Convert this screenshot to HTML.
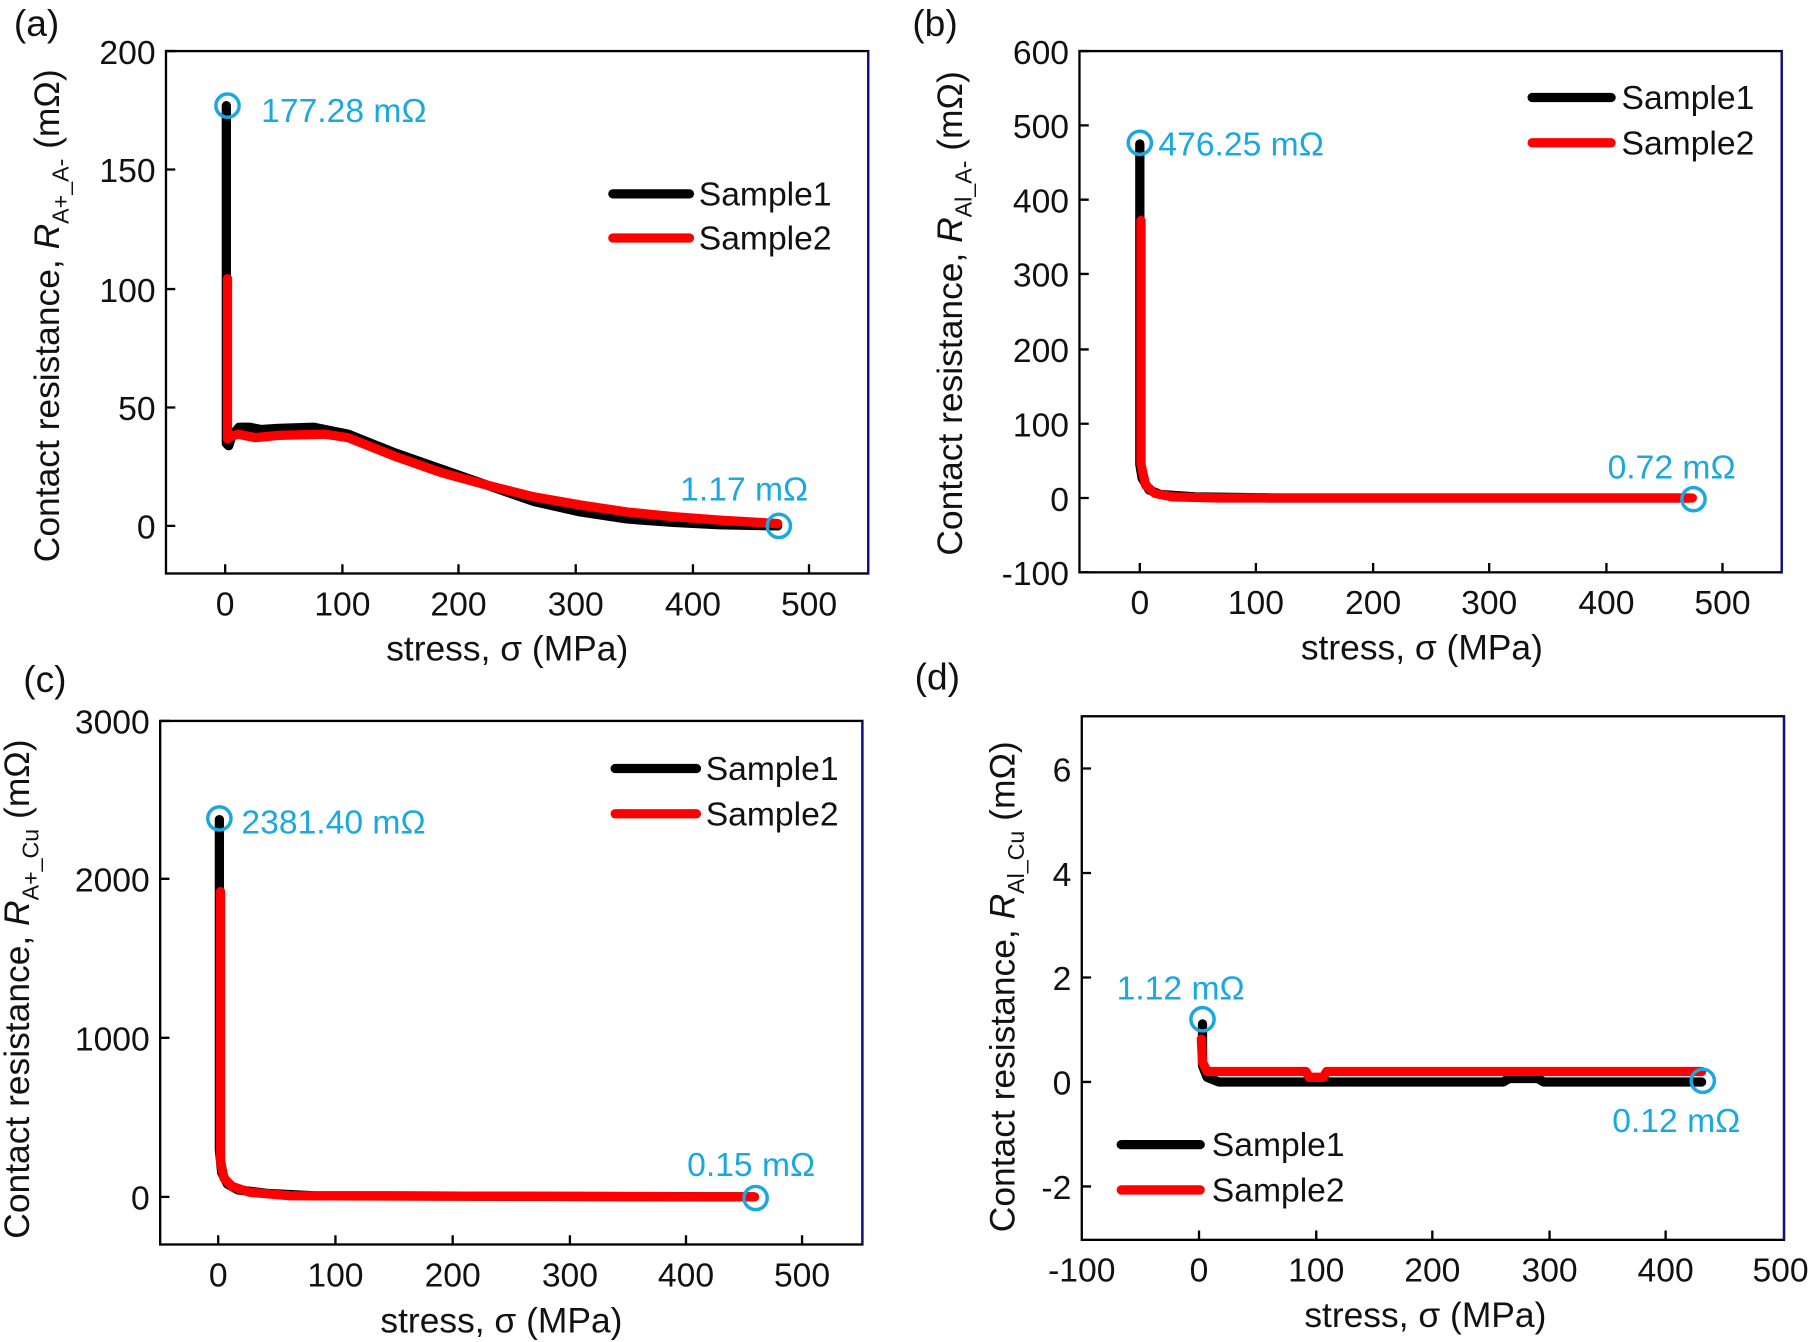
<!DOCTYPE html>
<html><head><meta charset="utf-8"><style>body{margin:0;background:#fff}svg{display:block}</style></head><body>
<svg width="1820" height="1342" viewBox="0 0 1568 1156" preserveAspectRatio="none" xmlns="http://www.w3.org/2000/svg" font-family="Liberation Sans, Arial, sans-serif">
<style>
.t{font-size:29px;fill:#111}
.a{font-size:30.5px;fill:#111}
.p{font-size:32px;fill:#111}
.c{font-size:29px;fill:#1aa8e0}
.b{fill:none;stroke:#000;stroke-width:8;stroke-linejoin:round;stroke-linecap:round}
.r{fill:none;stroke:#ff0000;stroke-width:8;stroke-linejoin:round;stroke-linecap:round}
.ci{fill:none;stroke:#1aa8e0;stroke-width:3}
.ax{stroke:#000;stroke-width:2;fill:none}
.nv{stroke:#10108a;stroke-width:2}
</style>

<!-- Panel a -->
<text class="p" x="12" y="31">(a)</text>
<rect class="ax" x="143" y="44" width="605" height="450"/>
<line class="nv" x1="748" y1="44" x2="748" y2="494"/>
<g class="ax">
<path d="M143 44h8M143 146h8M143 249h8M143 351h8M143 453h8"/>
<path d="M194 494v-8M295 494v-8M395 494v-8M496 494v-8M597 494v-8M697 494v-8"/>
</g>
<g class="t" text-anchor="end">
<text x="134" y="55">200</text><text x="134" y="157">150</text><text x="134" y="260">100</text><text x="134" y="362">50</text><text x="134" y="464">0</text>
</g>
<g class="t" text-anchor="middle">
<text x="194" y="530">0</text><text x="295" y="530">100</text><text x="395" y="530">200</text><text x="496" y="530">300</text><text x="597" y="530">400</text><text x="697" y="530">500</text>
</g>
<text class="a" x="437" y="569" text-anchor="middle">stress, σ (MPa)</text>
<text class="a" transform="translate(51,272) rotate(-90)" text-anchor="middle">Contact resistance, <tspan font-style="italic">R</tspan><tspan font-size="20" dy="8">A+_A-</tspan><tspan dy="-8"> (mΩ)</tspan></text>
<polyline class="b" points="195,91 195,382 197,384 200,375 206,368 215,368 225,370 240,369 270,368 280,370 300,374 340,390 380,404 420,418 460,432 500,441 540,447 580,450 620,452 670,453"/>
<polyline class="r" points="196,240 196,378 199,376 205,374 220,377 240,375 280,374 300,377 340,393 380,407 420,418 460,428 500,435 540,441 580,445 620,448 670,451"/>
<circle class="ci" cx="196" cy="91" r="10"/><circle class="ci" cx="671" cy="453" r="10"/>
<text class="c" x="225" y="105">177.28 mΩ</text><text class="c" x="586" y="431">1.17 mΩ</text>
<line class="b" x1="528" y1="167" x2="594" y2="167"/><line class="r" x1="528" y1="205" x2="594" y2="205"/>
<text class="t" x="602" y="177">Sample1</text><text class="t" x="602" y="215">Sample2</text>

<!-- Panel b -->
<text class="p" x="786" y="31">(b)</text>
<rect class="ax" x="930" y="44" width="605" height="449"/>
<line class="nv" x1="1535" y1="44" x2="1535" y2="493"/>
<g class="ax">
<path d="M930 44h8M930 108h8M930 172h8M930 236h8M930 301h8M930 365h8M930 429h8M930 493h8"/>
<path d="M982 493v-8M1082 493v-8M1183 493v-8M1283 493v-8M1384 493v-8M1484 493v-8"/>
</g>
<g class="t" text-anchor="end">
<text x="921" y="55">600</text><text x="921" y="119">500</text><text x="921" y="183">400</text><text x="921" y="247">300</text><text x="921" y="312">200</text><text x="921" y="376">100</text><text x="921" y="440">0</text><text x="921" y="504">-100</text>
</g>
<g class="t" text-anchor="middle">
<text x="982" y="529">0</text><text x="1082" y="529">100</text><text x="1183" y="529">200</text><text x="1283" y="529">300</text><text x="1384" y="529">400</text><text x="1484" y="529">500</text>
</g>
<text class="a" x="1225" y="568" text-anchor="middle">stress, σ (MPa)</text>
<text class="a" transform="translate(829,270) rotate(-90)" text-anchor="middle">Contact resistance, <tspan font-style="italic">R</tspan><tspan font-size="20" dy="8">Al_A-</tspan><tspan dy="-8"> (mΩ)</tspan></text>
<polyline class="b" points="982,124 982,400 984,412 990,422 1000,426 1030,428 1100,429 1455,429"/>
<polyline class="r" points="983,190 983,400 987,418 995,425 1010,428 1050,429 1458,429"/>
<circle class="ci" cx="982" cy="123" r="10"/><circle class="ci" cx="1459" cy="430" r="10"/>
<text class="c" x="998" y="134">476.25 mΩ</text><text class="c" x="1385" y="412">0.72 mΩ</text>
<line class="b" x1="1320" y1="84" x2="1388" y2="84"/><line class="r" x1="1320" y1="123" x2="1388" y2="123"/>
<text class="t" x="1397" y="94">Sample1</text><text class="t" x="1397" y="133">Sample2</text>

<!-- Panel c -->
<text class="p" x="20" y="596">(c)</text>
<rect class="ax" x="138" y="621" width="605" height="451"/>
<line class="nv" x1="743" y1="621" x2="743" y2="1072"/>
<g class="ax">
<path d="M138 621h8M138 757h8M138 894h8M138 1031h8"/>
<path d="M188 1072v-8M289 1072v-8M390 1072v-8M491 1072v-8M591 1072v-8M691 1072v-8"/>
</g>
<g class="t" text-anchor="end">
<text x="129" y="632">3000</text><text x="129" y="768">2000</text><text x="129" y="905">1000</text><text x="129" y="1042">0</text>
</g>
<g class="t" text-anchor="middle">
<text x="188" y="1108">0</text><text x="289" y="1108">100</text><text x="390" y="1108">200</text><text x="491" y="1108">300</text><text x="591" y="1108">400</text><text x="691" y="1108">500</text>
</g>
<text class="a" x="432" y="1148" text-anchor="middle">stress, σ (MPa)</text>
<text class="a" transform="translate(25,852) rotate(-90)" text-anchor="middle">Contact resistance, <tspan font-style="italic">R</tspan><tspan font-size="20" dy="8">A+_Cu</tspan><tspan dy="-8"> (mΩ)</tspan></text>
<polyline class="b" points="189,706 189,990 191,1010 196,1020 205,1025 230,1028 270,1030 650,1031"/>
<polyline class="r" points="190,768 190,1000 193,1015 200,1022 215,1027 250,1030 650,1031"/>
<circle class="ci" cx="189" cy="705" r="10"/><circle class="ci" cx="651" cy="1032" r="10"/>
<text class="c" x="208" y="718">2381.40 mΩ</text><text class="c" x="592" y="1013">0.15 mΩ</text>
<line class="b" x1="530" y1="662" x2="600" y2="662"/><line class="r" x1="530" y1="701" x2="600" y2="701"/>
<text class="t" x="608" y="672">Sample1</text><text class="t" x="608" y="711">Sample2</text>

<!-- Panel d -->
<text class="p" x="788" y="594">(d)</text>
<rect class="ax" x="932" y="617" width="605" height="451"/>
<line class="nv" x1="1537" y1="617" x2="1537" y2="1068"/>
<g class="ax">
<path d="M932 662h8M932 752h8M932 842h8M932 932h8M932 1022h8"/>
<path d="M1033 1068v-8M1134 1068v-8M1234 1068v-8M1335 1068v-8M1435 1068v-8"/>
</g>
<g class="t" text-anchor="end">
<text x="923" y="673">6</text><text x="923" y="763">4</text><text x="923" y="853">2</text><text x="923" y="943">0</text><text x="923" y="1033">-2</text>
</g>
<g class="t" text-anchor="middle">
<text x="932" y="1104">-100</text><text x="1033" y="1104">0</text><text x="1134" y="1104">100</text><text x="1234" y="1104">200</text><text x="1335" y="1104">300</text><text x="1435" y="1104">400</text><text x="1534" y="1104">500</text>
</g>
<text class="a" x="1228" y="1143" text-anchor="middle">stress, σ (MPa)</text>
<text class="a" transform="translate(874,850) rotate(-90)" text-anchor="middle">Contact resistance, <tspan font-style="italic">R</tspan><tspan font-size="20" dy="8">Al_Cu</tspan><tspan dy="-8"> (mΩ)</tspan></text>
<polyline class="b" points="1036,882 1036,918 1040,928 1050,932 1295,932 1300,929 1325,929 1330,932 1466,932"/>
<polyline class="r" points="1035,895 1036,915 1040,923 1125,923 1128,928 1140,928 1143,923 1466,923"/>
<circle class="ci" cx="1036" cy="878" r="10"/><circle class="ci" cx="1467" cy="931" r="10"/>
<text class="c" x="962" y="861">1.12 mΩ</text><text class="c" x="1389" y="975">0.12 mΩ</text>
<line class="b" x1="966" y1="986" x2="1034" y2="986"/><line class="r" x1="966" y1="1025" x2="1034" y2="1025"/>
<text class="t" x="1044" y="996">Sample1</text><text class="t" x="1044" y="1035">Sample2</text>
</svg>
</body></html>
